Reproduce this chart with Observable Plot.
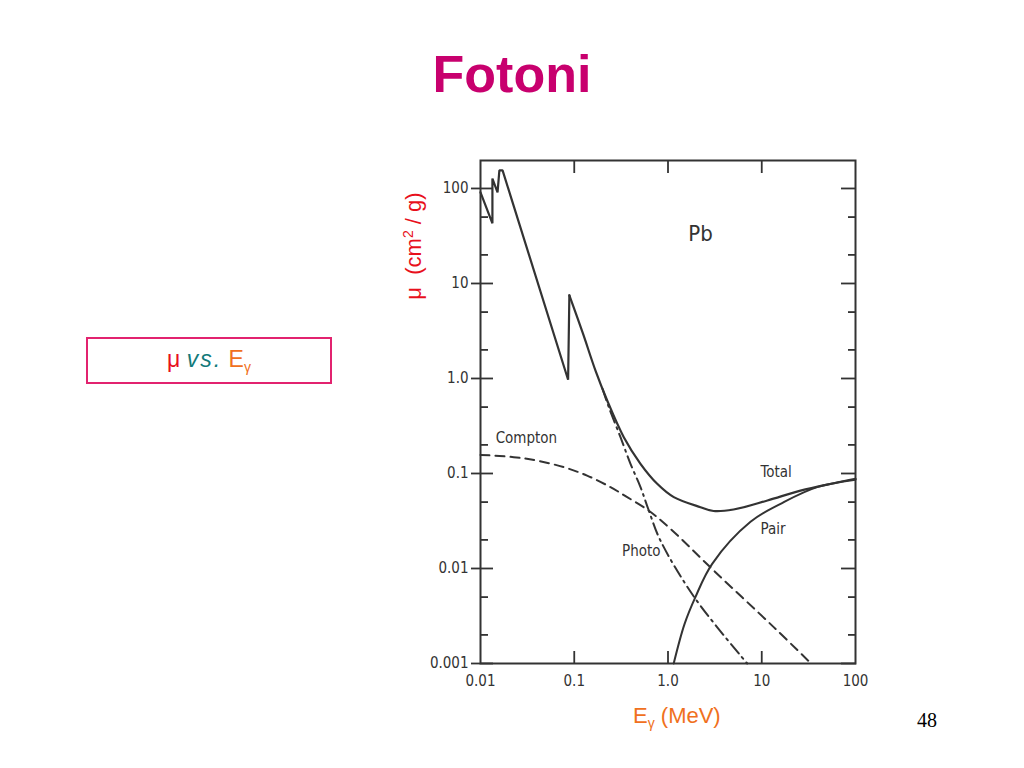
<!DOCTYPE html>
<html>
<head>
<meta charset="utf-8">
<script src="https://cdn.jsdelivr.net/npm/d3@7"></script>
<script src="https://cdn.jsdelivr.net/npm/@observablehq/plot@0.6"></script>
<style>
html, body { margin: 0; padding: 0; background: #fff; }
#page { position: relative; width: 1024px; height: 768px; overflow: hidden; font-family: "Liberation Sans", Arial, sans-serif; }
#title { position: absolute; left: 0; width: 1024px; top: 48px; text-align: center; font-size: 52px; line-height: 52px; font-weight: bold; color: #c8006e; }
#box { position: absolute; left: 86px; top: 337px; width: 242px; height: 43px; border: 2px solid #e2236f; font-size: 23px; line-height: 23px; }
#box .inner { position: absolute; left: 0; right: 0; top: 9px; text-align: center; white-space: nowrap; }
#box sub, #xlabel sub { font-size: 14px; vertical-align: -5px; line-height: 0; }
#ylabel { position: absolute; left: 414px; top: 246px; transform: translate(-50%, -50%) rotate(-90deg); white-space: nowrap; color: #e8101c; font-size: 22px; line-height: 22px; }
#ylabel sup { font-size: 14px; vertical-align: 8px; line-height: 0; }
#xlabel { position: absolute; left: 633px; top: 705px; white-space: nowrap; color: #f07020; font-size: 22px; line-height: 22px; }
#pagenum { position: absolute; left: 917px; top: 710px; font-family: "Liberation Serif", "Times New Roman", serif; font-size: 20px; line-height: 20px; color: #000; }
#chart { position: absolute; left: 400px; top: 140px; }
#chart svg { overflow: visible; }
</style>
</head>
<body>
<div id="page">
  <div id="title">Fotoni</div>
  <div id="box"><div class="inner"><span style="color:#e8101c">μ</span> <span style="color:#127a7a;font-style:italic;letter-spacing:2px">vs.</span> <span style="color:#f07020">E<sub>γ</sub></span></div></div>
  <div id="ylabel">μ &nbsp;(cm<sup>2</sup> / g)</div>
  <div id="chart"></div>
  <div id="xlabel">E<sub>γ</sub> (MeV)</div>
  <div id="pagenum">48</div>
</div>
<script>
// ---- tick values and labels ----
const energyTicks = [0.01, 0.1, 1, 10, 100];
const energyTickLabels = ["0.01", "0.1", "1.0", "10", "100"];
const energyInnerTicks = [0.1, 1, 10];
const muTicks = [0.001, 0.01, 0.1, 1, 10, 100];
const muTickLabels = ["0.001", "0.01", "0.1", "1.0", "10", "100"];
const muMinorTicks = [0.002, 0.005, 0.02, 0.05, 0.2, 0.5, 2, 5, 20, 50];

// ---- Total (with L and K absorption edges) ----
const totalEdgeE  = [0.0100, 0.0134, 0.0134, 0.0152, 0.0159, 0.0172, 0.0860, 0.0887];
const totalEdgeMu = [91, 43, 127, 91, 155, 155, 0.97, 7.5];
const totalE  = [0.0887, 0.124, 0.1685, 0.2246, 0.3377, 0.5088, 0.767, 1.153, 2.22, 3.06, 5.0, 11.5, 25.9, 58.6, 100];
const totalMu = [7.5, 2.96, 1.21, 0.587, 0.241, 0.1265, 0.0779, 0.0564, 0.0442, 0.0403, 0.0418, 0.052, 0.066, 0.079, 0.088];

// ---- Photoelectric ----
const photoE  = [0.20, 0.2336, 0.3113, 0.398, 0.509, 0.624, 0.83, 1.96, 7.0];
const photoMu = [0.78, 0.499, 0.241, 0.1265, 0.0718, 0.0408, 0.0197, 0.0048, 0.001];

// ---- Compton ----
const comptonE  = [0.01, 0.0226, 0.0403, 0.0775, 0.137, 0.2436, 0.367, 0.62, 1.06, 3.08, 13.5, 33.6];
const comptonMu = [0.157, 0.1486, 0.1365, 0.1164, 0.095, 0.0718, 0.0564, 0.0408, 0.0262, 0.0095, 0.0024, 0.001];

// ---- Pair production ----
const pairE  = [1.15, 1.5, 1.96, 2.96, 7.59, 17.2, 39, 100];
const pairMu = [0.001, 0.0026, 0.005, 0.0112, 0.031, 0.05, 0.0718, 0.086];

// ---- curve labels ----
const startLabelNames = ["Compton", "Total", "Pair"];
const startLabelE     = [0.0145, 9.7, 9.7];
const startLabelMu    = [0.233, 0.103, 0.0257];
const endLabelNames   = ["Photo"];
const endLabelE       = [0.832];
const endLabelMu      = [0.0152];
const elementLabel    = ["Pb"];
const elementLabelE   = [2.22];
const elementLabelMu  = [33.6];

const rows = (E, mu) => E.map((e, i) => ({E: e, mu: mu[i]}));
const labels = (names, E, mu) => names.map((n, i) => ({name: n, E: E[i], mu: mu[i]}));

const ink = "#333";
const noText = () => "";

const chart = Plot.plot({
  width: 480,
  height: 570,
  marginLeft: 80,
  marginRight: 25,
  marginTop: 20,
  marginBottom: 47,
  x: {type: "log", domain: [0.01, 100]},
  y: {type: "log", domain: [0.001, 197]},
  style: {
    fontFamily: '"Liberation Sans Narrow", "DejaVu Sans Condensed", sans-serif',
    fontSize: "15px",
    color: ink,
    background: "transparent"
  },
  marks: [
    Plot.frame({stroke: ink, strokeWidth: 2}),
    // left axis: labels + outward major ticks
    Plot.axisY(muTicks, {anchor: "left", tickSize: 9, tickPadding: 3, strokeWidth: 1.8,
      tickFormat: d => muTickLabels[muTicks.indexOf(d)], label: null}),
    Plot.axisY(muTicks, {anchor: "left", tickSize: -13, strokeWidth: 1.8, tickFormat: noText, label: null}),
    Plot.axisY(muMinorTicks, {anchor: "left", tickSize: -8, strokeWidth: 1.8, tickFormat: noText, label: null}),
    // right axis: inward ticks
    Plot.axisY(muTicks, {anchor: "right", tickSize: -15, strokeWidth: 1.8, tickFormat: noText, label: null}),
    Plot.axisY(muMinorTicks, {anchor: "right", tickSize: -8, strokeWidth: 1.8, tickFormat: noText, label: null}),
    // bottom axis labels and inward ticks, top inward ticks
    Plot.axisX(energyTicks, {anchor: "bottom", tickSize: 0, tickPadding: 12,
      tickFormat: d => energyTickLabels[energyTicks.indexOf(d)], label: null}),
    Plot.axisX(energyInnerTicks, {anchor: "bottom", tickSize: -12, strokeWidth: 1.8, tickFormat: noText, label: null}),
    Plot.axisX(energyInnerTicks, {anchor: "top", tickSize: -12, strokeWidth: 1.8, tickFormat: noText, label: null}),
    // curves
    Plot.line(rows(comptonE, comptonMu), {x: "E", y: "mu", stroke: ink, strokeWidth: 2, strokeDasharray: "9,6", curve: "catmull-rom"}),
    Plot.line(rows(photoE, photoMu), {x: "E", y: "mu", stroke: ink, strokeWidth: 2, strokeDasharray: "12,5,2,5", curve: "catmull-rom"}),
    Plot.line(rows(pairE, pairMu), {x: "E", y: "mu", stroke: ink, strokeWidth: 2, curve: "catmull-rom"}),
    Plot.line(rows(totalEdgeE, totalEdgeMu), {x: "E", y: "mu", stroke: ink, strokeWidth: 2.2, strokeLinejoin: "miter"}),
    Plot.line(rows(totalE, totalMu), {x: "E", y: "mu", stroke: ink, strokeWidth: 2.2, curve: "catmull-rom"}),
    // labels
    Plot.text(labels(startLabelNames, startLabelE, startLabelMu), {x: "E", y: "mu", text: "name", textAnchor: "start", fill: ink, fontSize: 15}),
    Plot.text(labels(endLabelNames, endLabelE, endLabelMu), {x: "E", y: "mu", text: "name", textAnchor: "end", fill: ink, fontSize: 15}),
    Plot.text(labels(elementLabel, elementLabelE, elementLabelMu), {x: "E", y: "mu", text: "name", fill: ink, fontSize: 22})
  ]
});
document.getElementById("chart").appendChild(chart);
</script>
</body>
</html>
